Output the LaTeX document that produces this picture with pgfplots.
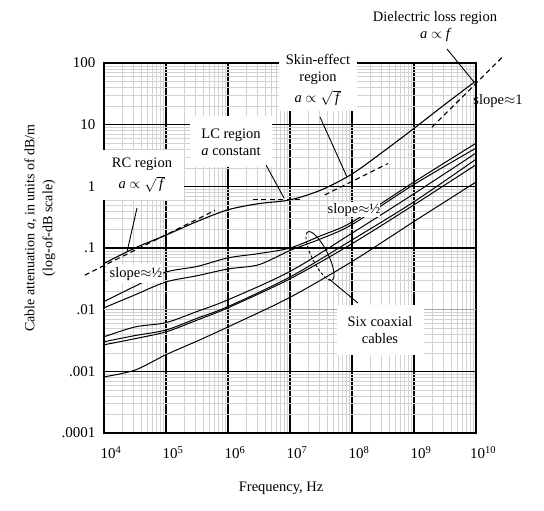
\documentclass[border=0pt]{standalone}
\usepackage{fontspec}
\setmainfont{Liberation Serif}
\usepackage{pgfplots}
\pgfplotsset{compat=1.18}
\begin{document}
\begin{tikzpicture}[font=\fontsize{14.5}{17}\selectfont]
\path[use as bounding box] (-104pt,-78pt) rectangle (440pt,433pt);
\begin{axis}[
  at={(0pt,0pt)}, anchor=south west,
  scale only axis, width=372pt, height=370pt,
  xmode=log, ymode=log,
  xmin=1e4, xmax=1e10, ymin=1e-4, ymax=100,
  clip=false,
  axis line style={line width=1.4pt},
  xtick={1e4,1e5,1e6,1e7,1e8,1e9,1e10},
  xticklabels={10\textsuperscript{4},10\textsuperscript{5},10\textsuperscript{6},10\textsuperscript{7},10\textsuperscript{8},10\textsuperscript{9},10\textsuperscript{10}},
  ytick={1e-4,1e-3,1e-2,0.1,1,10,100},
  yticklabels={.0001,.001,.01,.1,1,10,100},
  extra y ticks={0.01}, extra y tick labels={},
  extra y tick style={major grid style={gray!70,line width=1.3pt}},
  grid=both,
  major grid style={black,line width=1.3pt},
  minor grid style={gray!35,line width=0.4pt},
  major tick length=0pt, minor tick length=0pt,
  tick label style={font=\fontsize{15}{17}\selectfont},
  xticklabel style={yshift=-10pt, xshift=7pt},
  yticklabel style={xshift=-5pt},
  xlabel={Frequency, Hz},
  xlabel style={at={(rel axis cs:0.476,-0.149)}, anchor=center},
  ylabel={Cable attenuation \textit{a}, in units of dB/m\\(log-of-dB scale)},
  ylabel style={at={(rel axis cs:-0.172,0.554)}, anchor=center, align=center, font=\fontsize{14}{18}\selectfont},
]
% main curve (RC -> LC -> skin effect -> dielectric)
\addplot[black, line width=1.1pt, smooth] coordinates {
 (1e4,0.0562) (3.162e4,0.1) (1e5,0.162) (3.162e5,0.269) (1e6,0.417) (3.162e6,0.525)
 (1e7,0.603) (3.162e7,0.871) (1e8,1.585) (3.162e8,3.631) (1e9,8.71) (3.162e9,21.38) (1e10,51.3)};
% six coaxial cables
\addplot[black, line width=1.0pt, smooth] coordinates {
 (1e4,0.01349) (3.162e4,0.02399) (1e5,0.04074) (3.162e5,0.05012) (1e6,0.06918) (3.162e6,0.08128)
 (1e7,0.1) (3.162e7,0.1585) (1e8,0.2630) (1e9,1.175) (1e10,5.012)};
\addplot[black, line width=1.0pt, smooth] coordinates {
 (1e4,0.01072) (3.162e4,0.01738) (1e5,0.02818) (3.162e5,0.03548) (1e6,0.04571) (3.162e6,0.05370)
 (1e7,0.0912) (3.162e7,0.1413) (1e8,0.2399) (1e9,1.072) (1e10,4.169)};
\addplot[black, line width=1.0pt, smooth] coordinates {
 (1e4,0.003631) (3.162e4,0.005248) (1e5,0.006166) (3.162e5,0.009333) (1e6,0.01445)
 (1e7,0.04169) (1e8,0.1738) (1e9,0.7586) (1e10,3.467)};
\addplot[black, line width=1.0pt, smooth] coordinates {
 (1e4,0.003020) (3.162e4,0.003802) (1e5,0.004677) (3.162e5,0.007244) (1e6,0.01122)
 (1e7,0.03388) (1e8,0.1349) (1e9,0.5623) (1e10,2.754)};
\addplot[black, line width=1.0pt, smooth] coordinates {
 (1e4,0.002692) (3.162e4,0.003388) (1e5,0.004365) (3.162e5,0.006761) (1e6,0.01072)
 (1e7,0.03162) (1e8,0.1175) (1e9,0.5012) (1e10,2.239)};
\addplot[black, line width=1.0pt, smooth] coordinates {
 (1e4,0.000813) (3.162e4,0.001047) (1e5,0.001862) (3.162e5,0.003090) (1e6,0.005248)
 (1e7,0.01585) (1e8,0.06026) (1e9,0.2692) (1e10,1.175)};
% asymptotes (dashed)
\addplot[black, line width=1.1pt, dash pattern=on 5pt off 3.5pt] coordinates {(4898,0.0363) (616595,0.4074)};
\addplot[black, line width=1.1pt, dash pattern=on 5pt off 3.5pt] coordinates {(2.512e6,0.62) (1.549e7,0.62)};
\addplot[black, line width=1.1pt, dash pattern=on 5pt off 3.5pt] coordinates {(3.631e7,0.7244) (3.802e8,2.344)};
\addplot[black, line width=1.1pt, dash pattern=on 5pt off 3.5pt] coordinates {(1.95e9,9.12) (2.818e10,131.8)};
\end{axis}
% annotations
\node[align=center] at (331pt,406pt) {Dielectric loss region\\{\itshape a} $\propto$ {\itshape f}};
\draw[line width=0.9pt] (343pt,384pt) -- (370pt,351pt);
\node at (394pt,332pt) {slope$\approx$1};
\node[fill=white, inner sep=0pt, minimum width=78pt, minimum height=62pt, align=center] at (214pt,353pt)
  {Skin-effect\\region\\[4pt]{\itshape a} $\propto\sqrt{\,\mbox{\itshape f}\,}$};
\draw[line width=0.9pt] (216pt,316pt) -- (243pt,256pt);
\node[fill=white, inner sep=0pt, minimum width=82pt, minimum height=51pt, align=center] at (127pt,291pt)
  {LC region\\{\itshape a} constant};
\draw[line width=0.9pt] (162pt,268pt) -- (180pt,235pt);
\node[fill=white, inner sep=0pt, minimum width=85pt, minimum height=50pt, align=center] at (38pt,258pt)
  {RC region\\[4pt]{\itshape a} $\propto\sqrt{\,\mbox{\itshape f}\,}$};
\draw[line width=0.9pt] (33pt,225pt) -- (23pt,181pt);
\node[fill=white, inner sep=0pt, minimum width=55pt, minimum height=19pt] at (32pt,159pt) {slope$\approx$½};
\node[fill=white, inner sep=0pt, minimum width=52pt, minimum height=15pt] at (250pt,223pt) {slope$\approx$½};
\begin{scope}[shift={(216pt,177pt)}, rotate=-63.4]
  \draw[line width=0.9pt] (27pt,0) arc[start angle=0, end angle=180, x radius=27pt, y radius=8pt];
  \draw[line width=0.9pt, dash pattern=on 3pt off 2pt] (-27pt,0) arc[start angle=180, end angle=360, x radius=27pt, y radius=8pt];
\end{scope}
\draw[line width=0.9pt] (225pt,154pt) -- (254pt,130pt);
\node[fill=white, inner sep=0pt, minimum width=87pt, minimum height=50pt, align=center] at (276pt,103pt)
  {Six coaxial\\cables};
\end{tikzpicture}
\end{document}
